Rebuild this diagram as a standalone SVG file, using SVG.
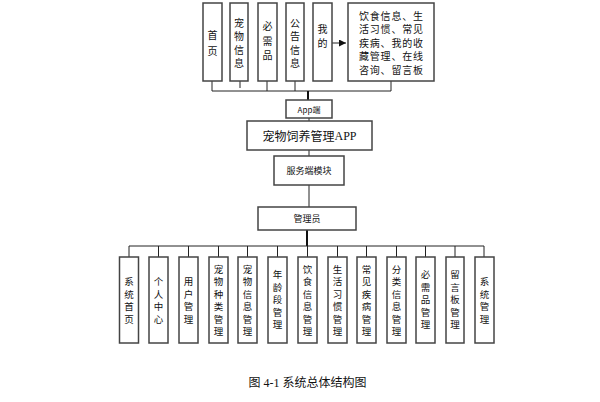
<svg xmlns="http://www.w3.org/2000/svg" width="600" height="402" viewBox="0 0 600 402">
<style>
.box{fill:#fff;stroke:#444;stroke-width:1.5}
.ln{stroke:#222;stroke-width:1;fill:none}
.thick{stroke:#111;stroke-width:2;fill:none}
text{font-family:"Noto Sans CJK SC","Liberation Sans",sans-serif;fill:#111;text-anchor:middle;dominant-baseline:central}
.t11{font-size:10px}
.tb{font-size:10px;letter-spacing:0.8px}
.t10{font-size:9.5px}
.t9{font-size:9px}
.t8{font-size:8px}
.ser{font-family:"Liberation Serif","Noto Sans CJK SC",serif}
</style>
<defs>
<marker id="arr" viewBox="0 0 10 10" refX="10" refY="5" markerWidth="7" markerHeight="7" orient="auto" markerUnits="userSpaceOnUse"><path d="M0,0 L10,5 L0,10 z" fill="#111"/></marker>
</defs>
<g id="connectors">
<path class="ln" d="M212,81 V91 H391 V81 M240,81 V88 M267,81 V91 M295,81 V91"/>
<path class="thick" d="M308,91 V100"/>
<path class="ln" d="M332,43 H346" marker-end="url(#arr)"/>
<path class="ln" d="M309,118 V121 M309,150 V156 M309,185 V207"/>
<path class="thick" d="M307,230 V246"/>
<path class="ln" d="M129,257 V246 H484 V257"/>
<path class="ln" d="M158.5,246 V257 M188.5,246 V257 M218.5,246 V257 M247.5,246 V257 M277.5,246 V257 M307.5,246 V257 M337.5,246 V257 M366.5,246 V257 M396.5,246 V257 M425.5,246 V257 M455,246 V257"/>
</g>
<g id="n-home"><rect class="box" x="203" y="3" width="19" height="78"/><text class="t11" x="212.5" y="34">首</text><text class="t11" x="212.5" y="50">页</text></g>
<g id="n-petinfo"><rect class="box" x="230" y="3" width="18" height="78"/><text class="t11" x="239" y="22">宠</text><text class="t11" x="239" y="35.5">物</text><text class="t11" x="239" y="49">信</text><text class="t11" x="239" y="62.5">息</text></g>
<g id="n-need"><rect class="box" x="258" y="3" width="19" height="78"/><text class="t11" x="267.5" y="25.5">必</text><text class="t11" x="267.5" y="40">需</text><text class="t11" x="267.5" y="54.5">品</text></g>
<g id="n-notice"><rect class="box" x="286" y="3" width="18" height="78"/><text class="t11" x="295" y="22">公</text><text class="t11" x="295" y="35.5">告</text><text class="t11" x="295" y="49">信</text><text class="t11" x="295" y="62.5">息</text></g>
<g id="n-mine"><rect class="box" x="313" y="3" width="19" height="78"/><text class="t11" x="322.5" y="28.5">我</text><text class="t11" x="322.5" y="42">的</text></g>
<g id="n-minedetail"><rect class="box" x="348" y="3" width="86" height="78"/>
<text class="tb" x="391.4" y="15">饮食信息、生</text><text class="tb" x="391.4" y="28.5">活习惯、常见</text><text class="tb" x="391.4" y="42">疾病、我的收</text><text class="tb" x="391.4" y="55.5">藏管理、在线</text><text class="tb" x="391.4" y="69">咨询、留言板</text></g>
<g id="n-app"><rect class="box" x="286" y="100" width="46" height="18"/><text class="t8" x="309" y="109">App端</text></g>
<g id="n-title"><rect class="box" x="247" y="121" width="125" height="29"/><text x="309.5" y="135.5" style="font-size:12px">宠物饲养管理<tspan class="ser">APP</tspan></text></g>
<g id="n-server"><rect class="box" x="274" y="156" width="70" height="29"/><text class="t9" x="309" y="170.5">服务端模块</text></g>
<g id="n-admin"><rect class="box" x="258" y="207" width="98" height="23"/><text class="t9" x="307" y="218.5">管理员</text></g>
<g id="b1"><rect class="box" x="119.5" y="257" width="19" height="86"/><text class="t10" x="129" y="281">系</text><text class="t10" x="129" y="293.5">统</text><text class="t10" x="129" y="306">首</text><text class="t10" x="129" y="318.5">页</text></g>
<g id="b2"><rect class="box" x="149" y="257" width="19" height="86"/><text class="t10" x="158.5" y="281">个</text><text class="t10" x="158.5" y="293.5">人</text><text class="t10" x="158.5" y="306">中</text><text class="t10" x="158.5" y="318.5">心</text></g>
<g id="b3"><rect class="box" x="179" y="257" width="19" height="86"/><text class="t10" x="188.5" y="281">用</text><text class="t10" x="188.5" y="293.5">户</text><text class="t10" x="188.5" y="306">管</text><text class="t10" x="188.5" y="318.5">理</text></g>
<g id="b4"><rect class="box" x="209" y="257" width="19" height="86"/><text class="t10" x="218.5" y="268.5">宠</text><text class="t10" x="218.5" y="281">物</text><text class="t10" x="218.5" y="293.5">种</text><text class="t10" x="218.5" y="306">类</text><text class="t10" x="218.5" y="318.5">管</text><text class="t10" x="218.5" y="331">理</text></g>
<g id="b5"><rect class="box" x="238" y="257" width="19" height="86"/><text class="t10" x="247.5" y="268.5">宠</text><text class="t10" x="247.5" y="281">物</text><text class="t10" x="247.5" y="293.5">信</text><text class="t10" x="247.5" y="306">息</text><text class="t10" x="247.5" y="318.5">管</text><text class="t10" x="247.5" y="331">理</text></g>
<g id="b6"><rect class="box" x="268" y="257" width="19" height="86"/><text class="t10" x="277.5" y="274">年</text><text class="t10" x="277.5" y="286.5">龄</text><text class="t10" x="277.5" y="299">段</text><text class="t10" x="277.5" y="311.5">管</text><text class="t10" x="277.5" y="324">理</text></g>
<g id="b7"><rect class="box" x="298" y="257" width="19" height="86"/><text class="t10" x="307.5" y="268.5">饮</text><text class="t10" x="307.5" y="281">食</text><text class="t10" x="307.5" y="293.5">信</text><text class="t10" x="307.5" y="306">息</text><text class="t10" x="307.5" y="318.5">管</text><text class="t10" x="307.5" y="331">理</text></g>
<g id="b8"><rect class="box" x="328" y="257" width="19" height="86"/><text class="t10" x="337.5" y="268.5">生</text><text class="t10" x="337.5" y="281">活</text><text class="t10" x="337.5" y="293.5">习</text><text class="t10" x="337.5" y="306">惯</text><text class="t10" x="337.5" y="318.5">管</text><text class="t10" x="337.5" y="331">理</text></g>
<g id="b9"><rect class="box" x="357" y="257" width="19" height="86"/><text class="t10" x="366.5" y="268.5">常</text><text class="t10" x="366.5" y="281">见</text><text class="t10" x="366.5" y="293.5">疾</text><text class="t10" x="366.5" y="306">病</text><text class="t10" x="366.5" y="318.5">管</text><text class="t10" x="366.5" y="331">理</text></g>
<g id="b10"><rect class="box" x="387" y="257" width="19" height="86"/><text class="t10" x="396.5" y="268.5">分</text><text class="t10" x="396.5" y="281">类</text><text class="t10" x="396.5" y="293.5">信</text><text class="t10" x="396.5" y="306">息</text><text class="t10" x="396.5" y="318.5">管</text><text class="t10" x="396.5" y="331">理</text></g>
<g id="b11"><rect class="box" x="416" y="257" width="19" height="86"/><text class="t10" x="425.5" y="274">必</text><text class="t10" x="425.5" y="286.5">需</text><text class="t10" x="425.5" y="299">品</text><text class="t10" x="425.5" y="311.5">管</text><text class="t10" x="425.5" y="324">理</text></g>
<g id="b12"><rect class="box" x="446" y="257" width="18" height="86"/><text class="t10" x="455" y="274">留</text><text class="t10" x="455" y="286.5">言</text><text class="t10" x="455" y="299">板</text><text class="t10" x="455" y="311.5">管</text><text class="t10" x="455" y="324">理</text></g>
<g id="b13"><rect class="box" x="475" y="257" width="19" height="86"/><text class="t10" x="484.5" y="281">系</text><text class="t10" x="484.5" y="293.5">统</text><text class="t10" x="484.5" y="306">管</text><text class="t10" x="484.5" y="318.5">理</text></g>
<text class="ser" x="307.5" y="383" style="font-size:12px">图 4-1 系统总体结构图</text>
</svg>
